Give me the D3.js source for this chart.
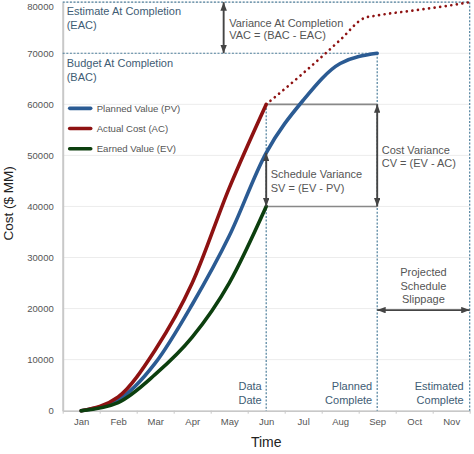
<!DOCTYPE html>
<html>
<head>
<meta charset="utf-8">
<title>Earned Value</title>
<script src="https://cdn.jsdelivr.net/npm/d3@7"></script>
<style>
  body { margin:0; background:#fff; }
  svg text { font-family: "Liberation Sans", Arial, Helvetica, sans-serif; }
</style>
</head>
<body>
<svg id="chart-area"></svg>
<script>
// Categories (months) and y ticks
var months = ["Jan","Feb","Mar","Apr","May","Jun","Jul","Aug","Sep","Oct","Nov"];
var yTicks = [0, 10000, 20000, 30000, 40000, 50000, 60000, 70000, 80000];

// Planned Value (Jan - Sep)
var plannedValue = [0, 2100, 9300, 20800, 34200, 50500, 60800, 68000, 70000];
// Actual Cost (Jan - Jun)
var actualCost = [0, 2700, 11900, 25000, 43600, 60000];
// Earned Value (Jan - Jun)
var earnedValue = [0, 1600, 7100, 14400, 25000, 40000];

// Projected cost to completion (month index / cost)
var projMonth = [5, 6, 7, 7.65, 8, 9, 10, 10.5];
var projCost = [60000, 66100, 72600, 76900, 77400, 78400, 79400, 80000];

// Key values
var BAC = 70000, EAC = 80000;
var dataDate = 5, plannedComplete = 8, estimatedComplete = 10.5;
var vacMonth = 3.85, slippageLevel = 19700;

var legendItems = [
    { label:"Planned Value (PV)", color:"#2b5b93" },
    { label:"Actual Cost (AC)", color:"#8e1212" },
    { label:"Earned Value (EV)", color:"#0c3f0e" }
];

var margin = { left:62.7, right:4.3, top:2.2, bottom:43.3 };
var width = 474 - margin.left - margin.right,
    height = 454 - margin.top - margin.bottom;

var svg = d3.select("#chart-area")
    .attr("width", 474)
    .attr("height", 454);

var g = svg.append("g")
    .attr("transform", "translate(" + margin.left + ", " + margin.top + ")");

// arrow head
svg.append("defs").append("marker")
    .attr("id", "arrow")
    .attr("viewBox", "0 0 10 10")
    .attr("refX", 10)
    .attr("refY", 5)
    .attr("markerWidth", 8.5)
    .attr("markerHeight", 6.5)
    .attr("markerUnits", "userSpaceOnUse")
    .attr("preserveAspectRatio", "none")
    .attr("orient", "auto-start-reverse")
  .append("path")
    .attr("d", "M0,0L10,5L0,10z")
    .attr("fill", "#444");

// X Scale (month index, Jan = 0)
var x = d3.scaleLinear()
    .domain([-0.5, months.length - 0.5])
    .range([0, width]);

// Y Scale
var y = d3.scaleLinear()
    .domain([0, 80000])
    .range([height, 0]);

// Grid lines
g.selectAll(".grid")
    .data(yTicks)
    .enter().append("line")
        .attr("class", "grid")
        .attr("x1", 0)
        .attr("x2", width)
        .attr("y1", function(d){ return y(d); })
        .attr("y2", function(d){ return y(d); })
        .attr("stroke", "#ececec")
        .attr("stroke-width", 1);

// X Axis - labels
var xAxisCall = d3.axisBottom(x)
    .tickValues(d3.range(months.length))
    .tickSize(0)
    .tickPadding(8)
    .tickFormat(function(d){ return months[d]; });
var xAxis = g.append("g")
    .attr("class", "x axis")
    .attr("transform", "translate(0," + height + ")")
    .call(xAxisCall);
xAxis.select(".domain").attr("stroke", "#c8c8c8").attr("stroke-width", 1.5);
xAxis.selectAll("text").attr("font-size", "9.5px").attr("fill", "#555");

// X Axis - ticks between months
var xTickCall = d3.axisBottom(x)
    .tickValues(d3.range(-0.5, months.length, 1))
    .tickSizeInner(3)
    .tickSizeOuter(0)
    .tickFormat("");
var xTicks = g.append("g")
    .attr("transform", "translate(0," + height + ")")
    .call(xTickCall);
xTicks.select(".domain").remove();
xTicks.selectAll("line").attr("stroke", "#c8c8c8");

// Y Axis
var yAxisCall = d3.axisLeft(y)
    .tickValues(yTicks)
    .tickSize(0)
    .tickPadding(9)
    .tickFormat(d3.format("d"));
var yAxis = g.append("g")
    .attr("class", "y axis")
    .call(yAxisCall);
yAxis.select(".domain").attr("stroke", "#c8c8c8").attr("stroke-width", 2);
yAxis.selectAll("text").attr("font-size", "9.5px").attr("fill", "#555");
// keep the top label inside the picture
yAxis.selectAll(".tick")
    .filter(function(d){ return d === 80000; })
    .select("text")
        .attr("dy", "0.75em");

// Y Label
g.append("text")
    .attr("x", -(y(40000) - 3))
    .attr("y", 13 - margin.left)
    .attr("font-size", "13.5px")
    .attr("fill", "#222")
    .attr("text-anchor", "middle")
    .attr("transform", "rotate(-90)")
    .text("Cost ($ MM)");

// X Label
g.append("text")
    .attr("x", x(5))
    .attr("y", height + 36.5)
    .attr("font-size", "14px")
    .attr("fill", "#222")
    .attr("text-anchor", "middle")
    .text("Time");

// Guide lines (dotted)
var guides = [
    { x1:-0.5, x2:estimatedComplete, y1:EAC, y2:EAC },
    { x1:-0.5, x2:plannedComplete, y1:BAC, y2:BAC },
    { x1:dataDate, x2:dataDate, y1:actualCost[dataDate], y2:0 },
    { x1:plannedComplete, x2:plannedComplete, y1:BAC, y2:0 },
    { x1:estimatedComplete, x2:estimatedComplete, y1:EAC, y2:0 }
];
g.selectAll(".guide")
    .data(guides)
    .enter().append("line")
        .attr("class", "guide")
        .attr("x1", function(d){ return x(d.x1); })
        .attr("x2", function(d){ return x(d.x2); })
        .attr("y1", function(d){ return y(d.y1); })
        .attr("y2", function(d){ return y(d.y2); })
        .attr("stroke", "#4e7f9c")
        .attr("stroke-width", 1.2)
        .attr("stroke-dasharray", "2,1.6");

// Cost variance box lines
g.selectAll(".cvline")
    .data([actualCost[dataDate], earnedValue[dataDate]])
    .enter().append("line")
        .attr("class", "cvline")
        .attr("x1", x(dataDate))
        .attr("x2", x(plannedComplete))
        .attr("y1", function(d){ return y(d); })
        .attr("y2", function(d){ return y(d); })
        .attr("stroke", "#888")
        .attr("stroke-width", 1.6);

// Lines
var line = d3.line()
    .x(function(d, i){ return x(i); })
    .y(function(d){ return y(d); })
    .curve(d3.curveMonotoneX);

var series = [
    { values:plannedValue, color:legendItems[0].color },
    { values:actualCost, color:legendItems[1].color },
    { values:earnedValue, color:legendItems[2].color }
];

// projected cost (dotted)
var projLine = d3.line()
    .x(function(d, i){ return x(projMonth[i]); })
    .y(function(d){ return y(d); })
    .curve(d3.curveMonotoneX);
g.append("path")
    .attr("d", projLine(projCost))
    .attr("fill", "none")
    .attr("stroke", "#8e1212")
    .attr("stroke-width", 2.7)
    .attr("stroke-linecap", "round")
    .attr("stroke-dasharray", "0.01,5.6");

g.selectAll(".series")
    .data(series)
    .enter().append("path")
        .attr("class", "series")
        .attr("d", function(d){ return line(d.values); })
        .attr("fill", "none")
        .attr("stroke", function(d){ return d.color; })
        .attr("stroke-width", 3.6)
        .attr("stroke-linecap", "round");

// Arrows
var arrows = [
    { x1:vacMonth, x2:vacMonth, y1:BAC, y2:EAC },
    { x1:plannedComplete, x2:plannedComplete, y1:earnedValue[dataDate], y2:actualCost[dataDate] },
    { x1:dataDate, x2:dataDate, y1:earnedValue[dataDate], y2:plannedValue[dataDate] },
    { x1:plannedComplete, x2:estimatedComplete, y1:slippageLevel, y2:slippageLevel }
];
g.selectAll(".arrow")
    .data(arrows)
    .enter().append("line")
        .attr("class", "arrow")
        .attr("x1", function(d){ return x(d.x1); })
        .attr("x2", function(d){ return x(d.x2); })
        .attr("y1", function(d){ return y(d.y1); })
        .attr("y2", function(d){ return y(d.y2); })
        .attr("stroke", "#444")
        .attr("stroke-width", 1.9)
        .attr("marker-start", "url(#arrow)")
        .attr("marker-end", "url(#arrow)");

// Legend
var legend = g.append("g")
    .attr("transform", "translate(6, " + (y(60000) + 4) + ")");
var legendRow = legend.selectAll(".legend-row")
    .data(legendItems)
    .enter().append("g")
        .attr("class", "legend-row")
        .attr("transform", function(d, i){ return "translate(0, " + (i * 20.2) + ")"; });
legendRow.append("line")
    .attr("x1", 1)
    .attr("x2", 22)
    .attr("stroke", function(d){ return d.color; })
    .attr("stroke-width", 3.6)
    .attr("stroke-linecap", "round");
legendRow.append("text")
    .attr("x", 28)
    .attr("y", 3.6)
    .attr("font-size", "9.6px")
    .attr("fill", "#555")
    .text(function(d){ return d.label; });

// Annotation texts
function multiText(lines, px, py, anchor, color, lh) {
    var t = g.append("text")
        .attr("x", px)
        .attr("y", py)
        .attr("font-size", "11px")
        .attr("fill", color)
        .attr("text-anchor", anchor);
    lines.forEach(function(s, i){
        t.append("tspan")
            .attr("x", px)
            .attr("y", py + i * lh)
            .text(s);
    });
}

var blueText = "#3e5c74", grayText = "#555";

multiText(["Estimate At Completion", "(EAC)"], x(-0.5) + 4, y(EAC) + 13.3, "start", blueText, 13.2);
multiText(["Budget At Completion", "(BAC)"], x(-0.5) + 4, y(BAC) + 14.2, "start", blueText, 13.2);
multiText(["Variance At Completion", "VAC = (BAC - EAC)"], x(vacMonth) + 5.5, y(EAC) + 24.5, "start", grayText, 12.8);
multiText(["Cost Variance", "CV = (EV - AC)"], x(plannedComplete) + 4.5, y(50000) - 1.5, "start", grayText, 12.8);
multiText(["Schedule Variance", "SV = (EV - PV)"], x(dataDate) + 4.5, y(earnedValue[dataDate]) - 28.3, "start", grayText, 13.8);
multiText(["Projected", "Schedule", "Slippage"], x((plannedComplete + estimatedComplete) / 2), y(slippageLevel) - 34, "middle", grayText, 13.5);
multiText(["Data", "Date"], x(dataDate) - 4.5, y(0) - 20.4, "end", blueText, 13.4);
multiText(["Planned", "Complete"], x(plannedComplete) - 5, y(0) - 20.4, "end", blueText, 13.4);
multiText(["Estimated", "Complete"], x(estimatedComplete) - 6, y(0) - 20.4, "end", blueText, 13.4);
</script>
</body>
</html>
